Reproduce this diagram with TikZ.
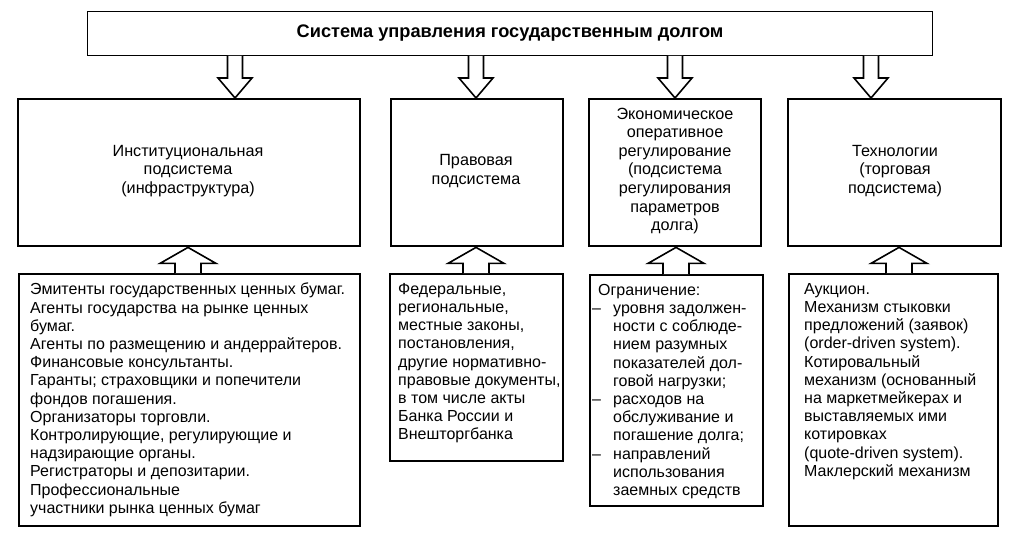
\documentclass[tikz,border=0pt]{standalone}
\usepackage{fontspec}
\setmainfont{Liberation Sans}
\usetikzlibrary{calc}
\newcommand\fatdown[2]{%
  \filldraw[fatarrow] let \p1=(#1), \p2=(#2) in
    (\x1-7.5pt,\y1) -- (\x1-7.5pt,\y2+20pt) -- (\x1-17pt,\y2+20pt) -- (\x1,\y2)
    -- (\x1+17pt,\y2+20pt) -- (\x1+7.5pt,\y2+20pt) -- (\x1+7.5pt,\y1);}
\newcommand\fatup[2]{%
  \filldraw[fatarrow] let \p1=(#1), \p2=(#2) in
    (\x1-13pt,\y1) -- (\x1-13pt,\y2-16pt) -- (\x1-28pt,\y2-16pt) -- (\x1,\y2)
    -- (\x1+28pt,\y2-16pt) -- (\x1+13pt,\y2-16pt) -- (\x1+13pt,\y1);}
\begin{document}
\begin{tikzpicture}[x=1pt,y=-1pt,
  titlebox/.style={draw, line width=1pt, anchor=north west, inner sep=0pt},
  topbox/.style={draw, line width=2.4pt, anchor=north west, inner sep=0pt},
  lowbox/.style={draw, line width=2pt, anchor=north west, inner sep=0pt},
  fatarrow/.style={draw=black, fill=white, line width=1.6pt, line join=miter},
  toptext/.style={align=center, font=\fontsize{16.2}{18.6}\selectfont, inner sep=0pt},
  lowtext/.style={align=left, anchor=north west, font=\fontsize{16}{18.2}\selectfont, inner sep=0pt}]
\useasboundingbox (0,0) rectangle (1013,543);
\fill[white] (0,0) rectangle (1013,543);
% title
\node[titlebox, minimum width=845pt, minimum height=44pt] (title) at (87,11) {};
\node[font=\bfseries\fontsize{18.2}{21}\selectfont, inner sep=0pt] (titletext) at (title.center) {Система управления государственным долгом};
% top boxes
\node[topbox, minimum width=342pt, minimum height=147pt] (b1) at (17,98) {};
\node[topbox, minimum width=172pt, minimum height=147pt] (b2) at (390,98) {};
\node[topbox, minimum width=172pt, minimum height=147pt] (b3) at (588,98) {};
\node[topbox, minimum width=213pt, minimum height=147pt] (b4) at (787,98) {};
\node[toptext] (t1) at (188,171) {Институциональная\\подсистема\\(инфраструктура)};
\node[toptext] (t2) at (476,171) {Правовая\\подсистема};
\node[toptext] (t3) at (675,171) {Экономическое\\оперативное\\регулирование\\(подсистема\\регулирования\\параметров\\долга)};
\node[toptext] (t4) at (895,171) {Технологии\\(торговая\\подсистема)};
% lower boxes
\node[lowbox, minimum width=341pt, minimum height=252pt] (l1) at (18,273) {};
\node[lowbox, minimum width=173pt, minimum height=187pt] (l2) at (389,273) {};
\node[lowbox, minimum width=173pt, minimum height=231pt] (l3) at (589,274) {};
\node[lowbox, minimum width=209pt, minimum height=252pt] (l4) at (788,273) {};
\node[lowtext] (x1) at ($(l1.north west)+(12,10)$) {Эмитенты государственных ценных бумаг.\\Агенты государства на рынке ценных\\бумаг.\\Агенты по размещению и андеррайтеров.\\Финансовые консультанты.\\Гаранты; страховщики и попечители\\фондов погашения.\\Организаторы торговли.\\Контролирующие, регулирующие и\\надзирающие органы.\\Регистраторы и депозитарии.\\Профессиональные\\участники рынка ценных бумаг};
\node[lowtext] (x2) at ($(l2.north west)+(9,10)$) {Федеральные,\\региональные,\\местные законы,\\постановления,\\другие нормативно-\\правовые документы,\\в том числе акты\\Банка России и\\Внешторгбанка};
\node[lowtext] (x3) at ($(l3.north west)+(3,10)$) {\hspace*{6pt}Ограничение:\\\makebox[21pt][l]{–}уровня задолжен-\\\hspace*{21pt}ности с соблюде-\\\hspace*{21pt}нием разумных\\\hspace*{21pt}показателей дол-\\\hspace*{21pt}говой нагрузки;\\\makebox[21pt][l]{–}расходов на\\\hspace*{21pt}обслуживание и\\\hspace*{21pt}погашение долга;\\\makebox[21pt][l]{–}направлений\\\hspace*{21pt}использования\\\hspace*{21pt}заемных средств};
\node[lowtext] (x4) at ($(l4.north west)+(16,10)$) {Аукцион.\\Механизм стыковки\\предложений (заявок)\\(order-driven system).\\Котировальный\\механизм (основанный\\на маркетмейкерах и\\выставляемых ими\\котировках\\(quote-driven system).\\Маклерский механизм};
% down arrows
\fatdown{title.south -| 235,0}{b1.north -| 235,0}
\fatdown{title.south -| 476,0}{b2.north -| 476,0}
\fatdown{title.south -| 675,0}{b3.north -| 675,0}
\fatdown{title.south -| 871,0}{b4.north -| 871,0}
% up arrows
\fatup{l1.north -| 188,0}{b1.south -| 188,0}
\fatup{l2.north -| 476,0}{b2.south -| 476,0}
\fatup{l3.north -| 676,0}{b3.south -| 676,0}
\fatup{l4.north -| 899,0}{b4.south -| 899,0}
\end{tikzpicture}
\end{document}
